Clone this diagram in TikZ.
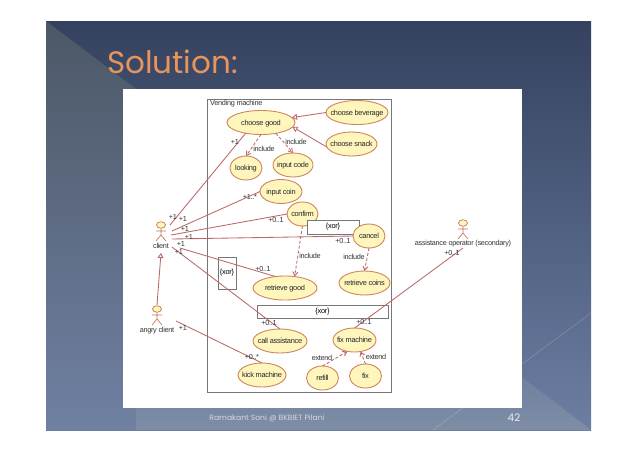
\documentclass[tikz,border=0pt]{standalone}
\usepackage{fontspec}
\setmainfont{Liberation Sans}[LetterSpace=-4]
\newfontfamily\slidefont{Poppins}
\usetikzlibrary{shapes.geometric,arrows.meta}
\definecolor{ucfill}{HTML}{FFF6BE}
\definecolor{ucline}{HTML}{CC8658}
\definecolor{conn}{HTML}{BC6668}
\definecolor{boxline}{HTML}{77777A}
\definecolor{slidetop}{HTML}{34425F}
\definecolor{slidebot}{HTML}{6C7EA2}
\definecolor{cornerA}{HTML}{4C5866}
\definecolor{cornerB}{HTML}{7080A2}
\definecolor{bandA}{HTML}{6F809E}
\definecolor{bandB}{HTML}{7F8EA6}
\definecolor{titlecol}{HTML}{E8945C}
\tikzset{
  x=1pt,y=-1pt,
  usecase/.style={ellipse,draw=ucline,fill=ucfill,line width=0.9pt,inner sep=0pt,outer sep=0pt,font=\fontsize{7.4}{8}\selectfont,text=black!85},
  lab/.style={font=\fontsize{7.3}{8}\selectfont,text=black!80,inner sep=0pt},
  assoc/.style={draw=conn,line width=0.85pt},
  gener/.style={draw=conn,line width=0.85pt,-{Triangle[open,length=5pt,width=6pt,fill=white]}},
  dep/.style={draw=conn,line width=0.85pt,densely dashed,-{Straight Barb[length=4pt,width=5pt]}},
  xorbox/.style={draw=boxline,fill=white,line width=0.8pt,inner sep=0pt,outer sep=0pt},
  stick/.style={draw=ucline!60!conn,line width=0.7pt},
  head/.style={ellipse,draw=ucline,fill=ucfill,line width=0.8pt,minimum width=9pt,minimum height=6.5pt,inner sep=0pt},
}
\newcommand{\uc}[5]{\node[usecase,minimum width=#4pt,minimum height=24pt] (#1) at (#2,#3) {\makebox[0pt]{\raisebox{-2.6pt}[0pt][0pt]{#5}}};}
\begin{document}
\begin{tikzpicture}
\useasboundingbox (0,0) rectangle (638,451);
\fill[white] (0,0) rectangle (638,451);
% slide background
\shade[top color=slidetop,bottom color=slidebot] (46,21) rectangle (591,430);
\shade[top color=bandA,bottom color=bandB] (120,408) -- (522,408) -- (522,377) -- (591,430) -- (120,430) -- cycle;
\shade[top color=cornerA,bottom color=cornerB] (46,21) -- (136,89) -- (136,430) -- (46,430) -- cycle;
\draw[white,opacity=.2,line width=.6pt] (433,430) -- (591,313);
% white panel
\fill[white] (123,89) rectangle (522,408);
\node[font=\slidefont\fontsize{31}{34}\selectfont,text=titlecol,inner sep=0pt,anchor=base west] (title) at (107,73) {Solution:};
\node[font=\slidefont\fontsize{7.6}{9}\selectfont,text=white!80!slidetop,inner sep=0pt] (foot) at (267,418) {Ramakant Soni @ BKBIET Pilani};
\node[font=\slidefont\fontsize{10.5}{12}\selectfont,text=white!90!slidetop,inner sep=0pt] (pageno) at (514,417.5) {42};
% system boundary
\node[draw=boxline,line width=0.8pt,minimum width=184pt,minimum height=293pt,inner sep=0pt] (sys) at (299.5,245.5) {};
\node[lab,anchor=west] (sysname) at (210,103.5) {Vending machine};
% use cases
\uc{good}{261}{122.5}{68}{choose good}
\uc{bev}{357}{112.5}{62}{choose beverage}
\uc{snack}{351.5}{144}{51}{choose snack}
\uc{look}{246}{168}{32}{looking}
\uc{code}{293}{165}{40}{input code}
\uc{coin}{281}{191.5}{42}{input coin}
\uc{conf}{302.5}{214}{31}{confirm}
\node[xorbox,minimum width=52pt,minimum height=14pt] (xtop) at (333,227) {\fontsize{7.4}{8}\selectfont\{xor\}};
\uc{canc}{369}{236}{32}{cancel}
\uc{rcoin}{364.5}{283}{51}{retrieve coins}
\uc{rgood}{285}{288}{64}{retrieve good}
\node[xorbox,minimum width=18pt,minimum height=32pt] (xleft) at (227,273) {\fontsize{7.4}{8}\selectfont\{xor\}};
\node[xorbox,minimum width=131pt,minimum height=13pt] (xbig) at (322.5,311.5) {\fontsize{7.4}{8}\selectfont\{xor\}};
\uc{call}{280}{341}{54}{call assistance}
\uc{fixm}{354.5}{340}{43}{fix machine}
\uc{kick}{262}{375}{48}{kick machine}
\uc{refill}{322.5}{378}{32}{refill}
\uc{fixx}{365.5}{376}{32}{fix}
% actors
\node[head] (hc) at (161,225) {};
\coordinate (cb) at (161,235);
\draw[stick] (hc) -- (cb) (156,231) -- (166,231) (156,241) -- (cb) -- (166,241);
\node[lab] (lc) at (161,246) {client};
\node[head] (ha) at (157,309) {};
\coordinate (ab) at (157,319);
\draw[stick] (ha) -- (ab) (152,315) -- (162,315) (152,325) -- (ab) -- (162,325);
\node[lab] (la) at (157,331) {angry client};
\node[head] (ho) at (463,223) {};
\coordinate (ob) at (463,233);
\draw[stick] (ho) -- (ob) (458,229) -- (468,229) (458,239) -- (ob) -- (468,239);
\node[lab] (lo) at (463,244) {assistance operator (secondary)};
% connector ends at the actors
\coordinate (c1) at (170,225);
\coordinate (c2) at (172,231);
\coordinate (c3) at (171,235);
\coordinate (c4) at (172,239);
\coordinate (c5) at (180,248);
\coordinate (c6) at (172,247);
\coordinate (a1) at (176,321);
\coordinate (o1) at (463,248);
\coordinate (clbot) at (161,253);
\coordinate (anTop) at (157,305);
% associations
\draw[assoc] (c1) -- (good.215);
\draw[assoc] (c2) -- (coin.180);
\draw[assoc] (c3) -- (conf.180);
\draw[assoc] (c4) -- (canc.180);
\draw[assoc] (c5) -- (rgood.130);
\draw[assoc] (c6) -- (call.90);
\draw[assoc] (a1) -- (kick.90);
\draw[assoc] (o1) -- (fixm.90);
% generalisations
\draw[gener] (anTop) -- (clbot);
\draw[gener] (bev.180) -- (good.9);
\draw[gener] (snack.187) -- (good.-8);
% dependencies
\draw[dep] (good.270) -- (look.90);
\draw[dep] (good.-36) -- (code.90);
\draw[dep] (conf.270) -- (rgood.50);
\draw[dep] (canc.270) -- (rcoin.90);
\draw[dep] (refill.90) -- (fixm.238);
\draw[dep] (fixx.90) -- (fixm.-62);
% labels
\node[lab] (m1) at (235,142) {+1};
\node[lab] (m2) at (173,217) {+1};
\node[lab] (m3) at (183,219) {+1};
\node[lab] (m4) at (185,229) {+1};
\node[lab] (m5) at (189,237) {+1};
\node[lab] (m6) at (181,244) {+1};
\node[lab] (m7) at (179,252) {+1};
\node[lab] (m8) at (250,197) {+1..*};
\node[lab] (m9) at (276,220) {+0..1};
\node[lab] (m10) at (343,241) {+0..1};
\node[lab] (m11) at (263,269) {+0..1};
\node[lab] (m12) at (269,323) {+0..1};
\node[lab] (m13) at (364,322) {+0..1};
\node[lab] (m14) at (452,253) {+0..1};
\node[lab] (m15) at (183,328) {+1};
\node[lab] (m16) at (252,357) {+0..*};
\node[lab] (i1) at (264,149) {include};
\node[lab] (i2) at (296,142) {include};
\node[lab] (i3) at (310,256) {include};
\node[lab] (i4) at (354,257) {include};
\node[lab] (e1) at (322,358) {extend};
\node[lab] (e2) at (376,357) {extend};
\end{tikzpicture}
\end{document}
